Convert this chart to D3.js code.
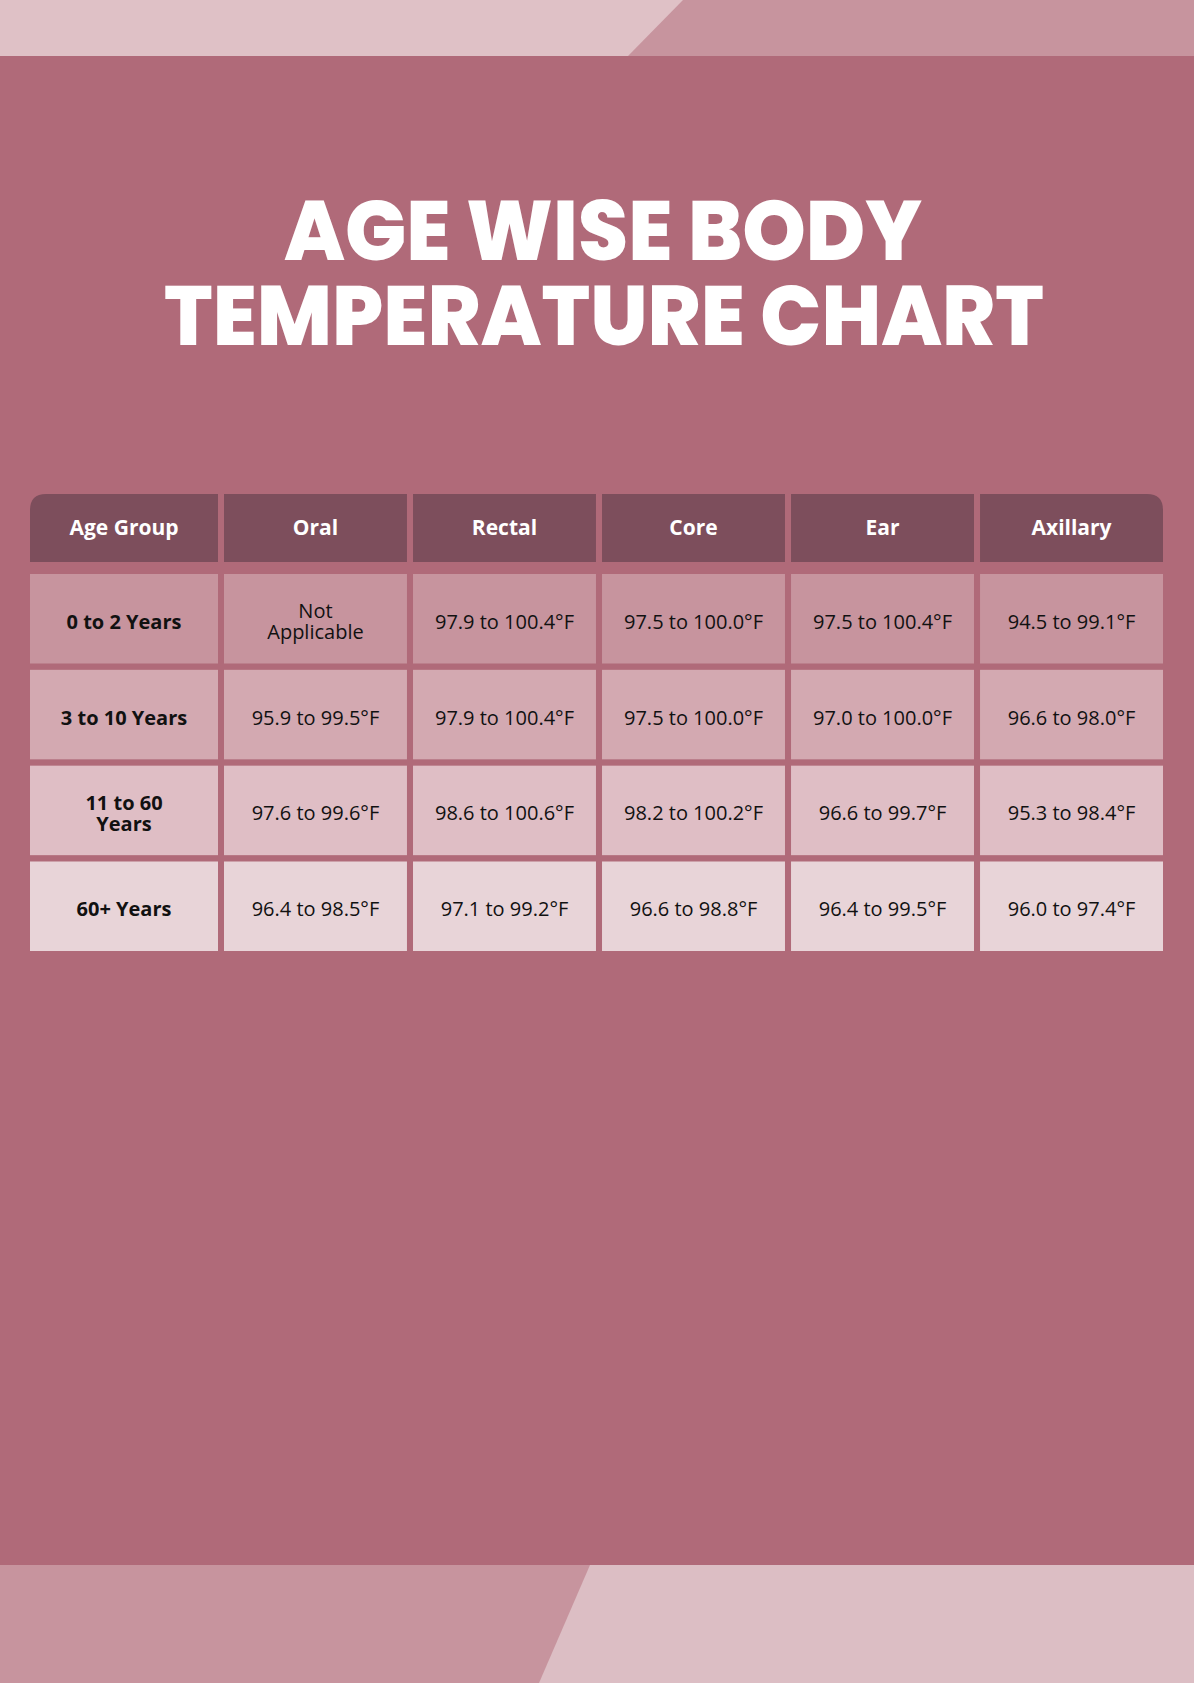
<!DOCTYPE html>
<html>
<head>
<meta charset="utf-8">
<script src="https://cdn.jsdelivr.net/npm/d3@7"></script>
<style>
  body { margin: 0; background: #b06a79; }
  svg { display: block; }
</style>
</head>
<body>
<div id="chart"></div>
<script>
var W = 1194, H = 1683;

var columns = ["Age Group", "Oral", "Rectal", "Core", "Ear", "Axillary"];
var ageGroups = [["0 to 2 Years"], ["3 to 10 Years"], ["11 to 60", "Years"], ["60+ Years"]];
var oral = [["Not", "Applicable"], ["95.9 to 99.5°F"], ["97.6 to 99.6°F"], ["96.4 to 98.5°F"]];
var rectal = ["97.9 to 100.4°F", "97.9 to 100.4°F", "98.6 to 100.6°F", "97.1 to 99.2°F"];
var core = ["97.5 to 100.0°F", "97.5 to 100.0°F", "98.2 to 100.2°F", "96.6 to 98.8°F"];
var ear = ["97.5 to 100.4°F", "97.0 to 100.0°F", "96.6 to 99.7°F", "96.4 to 99.5°F"];
var axillary = ["94.5 to 99.1°F", "96.6 to 98.0°F", "95.3 to 98.4°F", "96.0 to 97.4°F"];
var rowColors = ["#c7949e", "#d3a9b1", "#dfbec5", "#e8d4d8"];

// build rows as arrays of line-arrays
var rows = ageGroups.map(function(a, i) {
    return [a, oral[i], [rectal[i]], [core[i]], [ear[i]], [axillary[i]]];
});

var svg = d3.select("#chart").append("svg")
    .attr("width", W).attr("height", H);

svg.append("rect").attr("width", W).attr("height", H).attr("fill", "#b06a79");

// decorative bands
svg.append("rect").attr("width", W).attr("height", 56).attr("fill", "#dfc1c6");
svg.append("polygon").attr("points", "683,0 " + W + ",0 " + W + ",56 628,56").attr("fill", "#c7949e");
svg.append("rect").attr("y", 1565).attr("width", W).attr("height", H - 1565).attr("fill", "#c7949e");
svg.append("polygon").attr("points", "590,1565 " + W + ",1565 " + W + "," + H + " 539," + H).attr("fill", "#dcbec4");

// title
var title = svg.append("g")
    .attr("font-family", "Poppins, 'Open Sans', sans-serif")
    .attr("font-weight", 800)
    .attr("font-size", 84)
    .attr("fill", "#ffffff")
    .attr("text-anchor", "middle");
title.append("text").attr("x", 603).attr("y", 260)
    .attr("textLength", 638).attr("lengthAdjust", "spacingAndGlyphs").text("AGE WISE BODY");
title.append("text").attr("x", 604).attr("y", 345)
    .attr("textLength", 880).attr("lengthAdjust", "spacingAndGlyphs").text("TEMPERATURE CHART");

// table: first column a bit wider than the rest
var xv = d3.scaleBand().domain(d3.range(1, columns.length)).range([224, 1163]).paddingInner(0.032);
function colX(i) { return i === 0 ? 30 : xv(i); }
function colW(i) { return i === 0 ? 188 : xv.bandwidth(); }
var y = d3.scaleBand().domain(d3.range(rows.length)).range([574, 951]).paddingInner(0.066);

var tbl = svg.append("g").attr("font-family", "'Open Sans', sans-serif");

// header: rounded outer corners
var hy = 494, hh = 68, r = 16;
var head = tbl.append("g");
head.selectAll("path").data(columns).enter().append("path")
    .attr("fill", "#7d4e5c")
    .attr("d", function(d, i) {
        var x0 = colX(i), x1 = colX(i) + colW(i), y0 = hy, y1 = hy + hh;
        var rl = i === 0 ? r : 0, rr = i === columns.length - 1 ? r : 0;
        return "M" + x0 + "," + y1 + " L" + x0 + "," + (y0 + rl) +
            " Q" + x0 + "," + y0 + " " + (x0 + rl) + "," + y0 +
            " L" + (x1 - rr) + "," + y0 +
            " Q" + x1 + "," + y0 + " " + x1 + "," + (y0 + rr) +
            " L" + x1 + "," + y1 + " Z";
    });
head.selectAll("text").data(columns).enter().append("text")
    .attr("x", function(d, i) { return colX(i) + colW(i) / 2; })
    .attr("y", hy + hh / 2 + 7)
    .attr("text-anchor", "middle")
    .attr("font-size", 21).attr("font-weight", 700).attr("fill", "#ffffff")
    .text(function(d) { return d; });

var rowG = tbl.selectAll("g.row").data(rows).enter().append("g").attr("class", "row");
rowG.each(function(row, ri) {
    var g = d3.select(this);
    g.selectAll("rect").data(row).enter().append("rect")
        .attr("x", function(d, i) { return colX(i); })
        .attr("y", y(ri))
        .attr("width", function(d, i) { return colW(i); })
        .attr("height", y.bandwidth())
        .attr("fill", rowColors[ri]);
    var t = g.selectAll("text").data(row).enter().append("text")
        .attr("text-anchor", "middle")
        .attr("font-size", 20)
        .attr("font-weight", function(d, i) { return i === 0 ? 700 : 400; })
        .attr("fill", "#111111");
    t.each(function(lines, i) {
        var cx = colX(i) + colW(i) / 2;
        var cy = y(ri) + y.bandwidth() / 2;
        var lh = 21;
        d3.select(this).selectAll("tspan").data(lines).enter().append("tspan")
            .attr("x", cx)
            .attr("y", function(d, k) { return cy + 10 + (k - (lines.length - 1) / 2) * lh; })
            .text(function(d) { return d; });
    });
});
</script>
</body>
</html>
